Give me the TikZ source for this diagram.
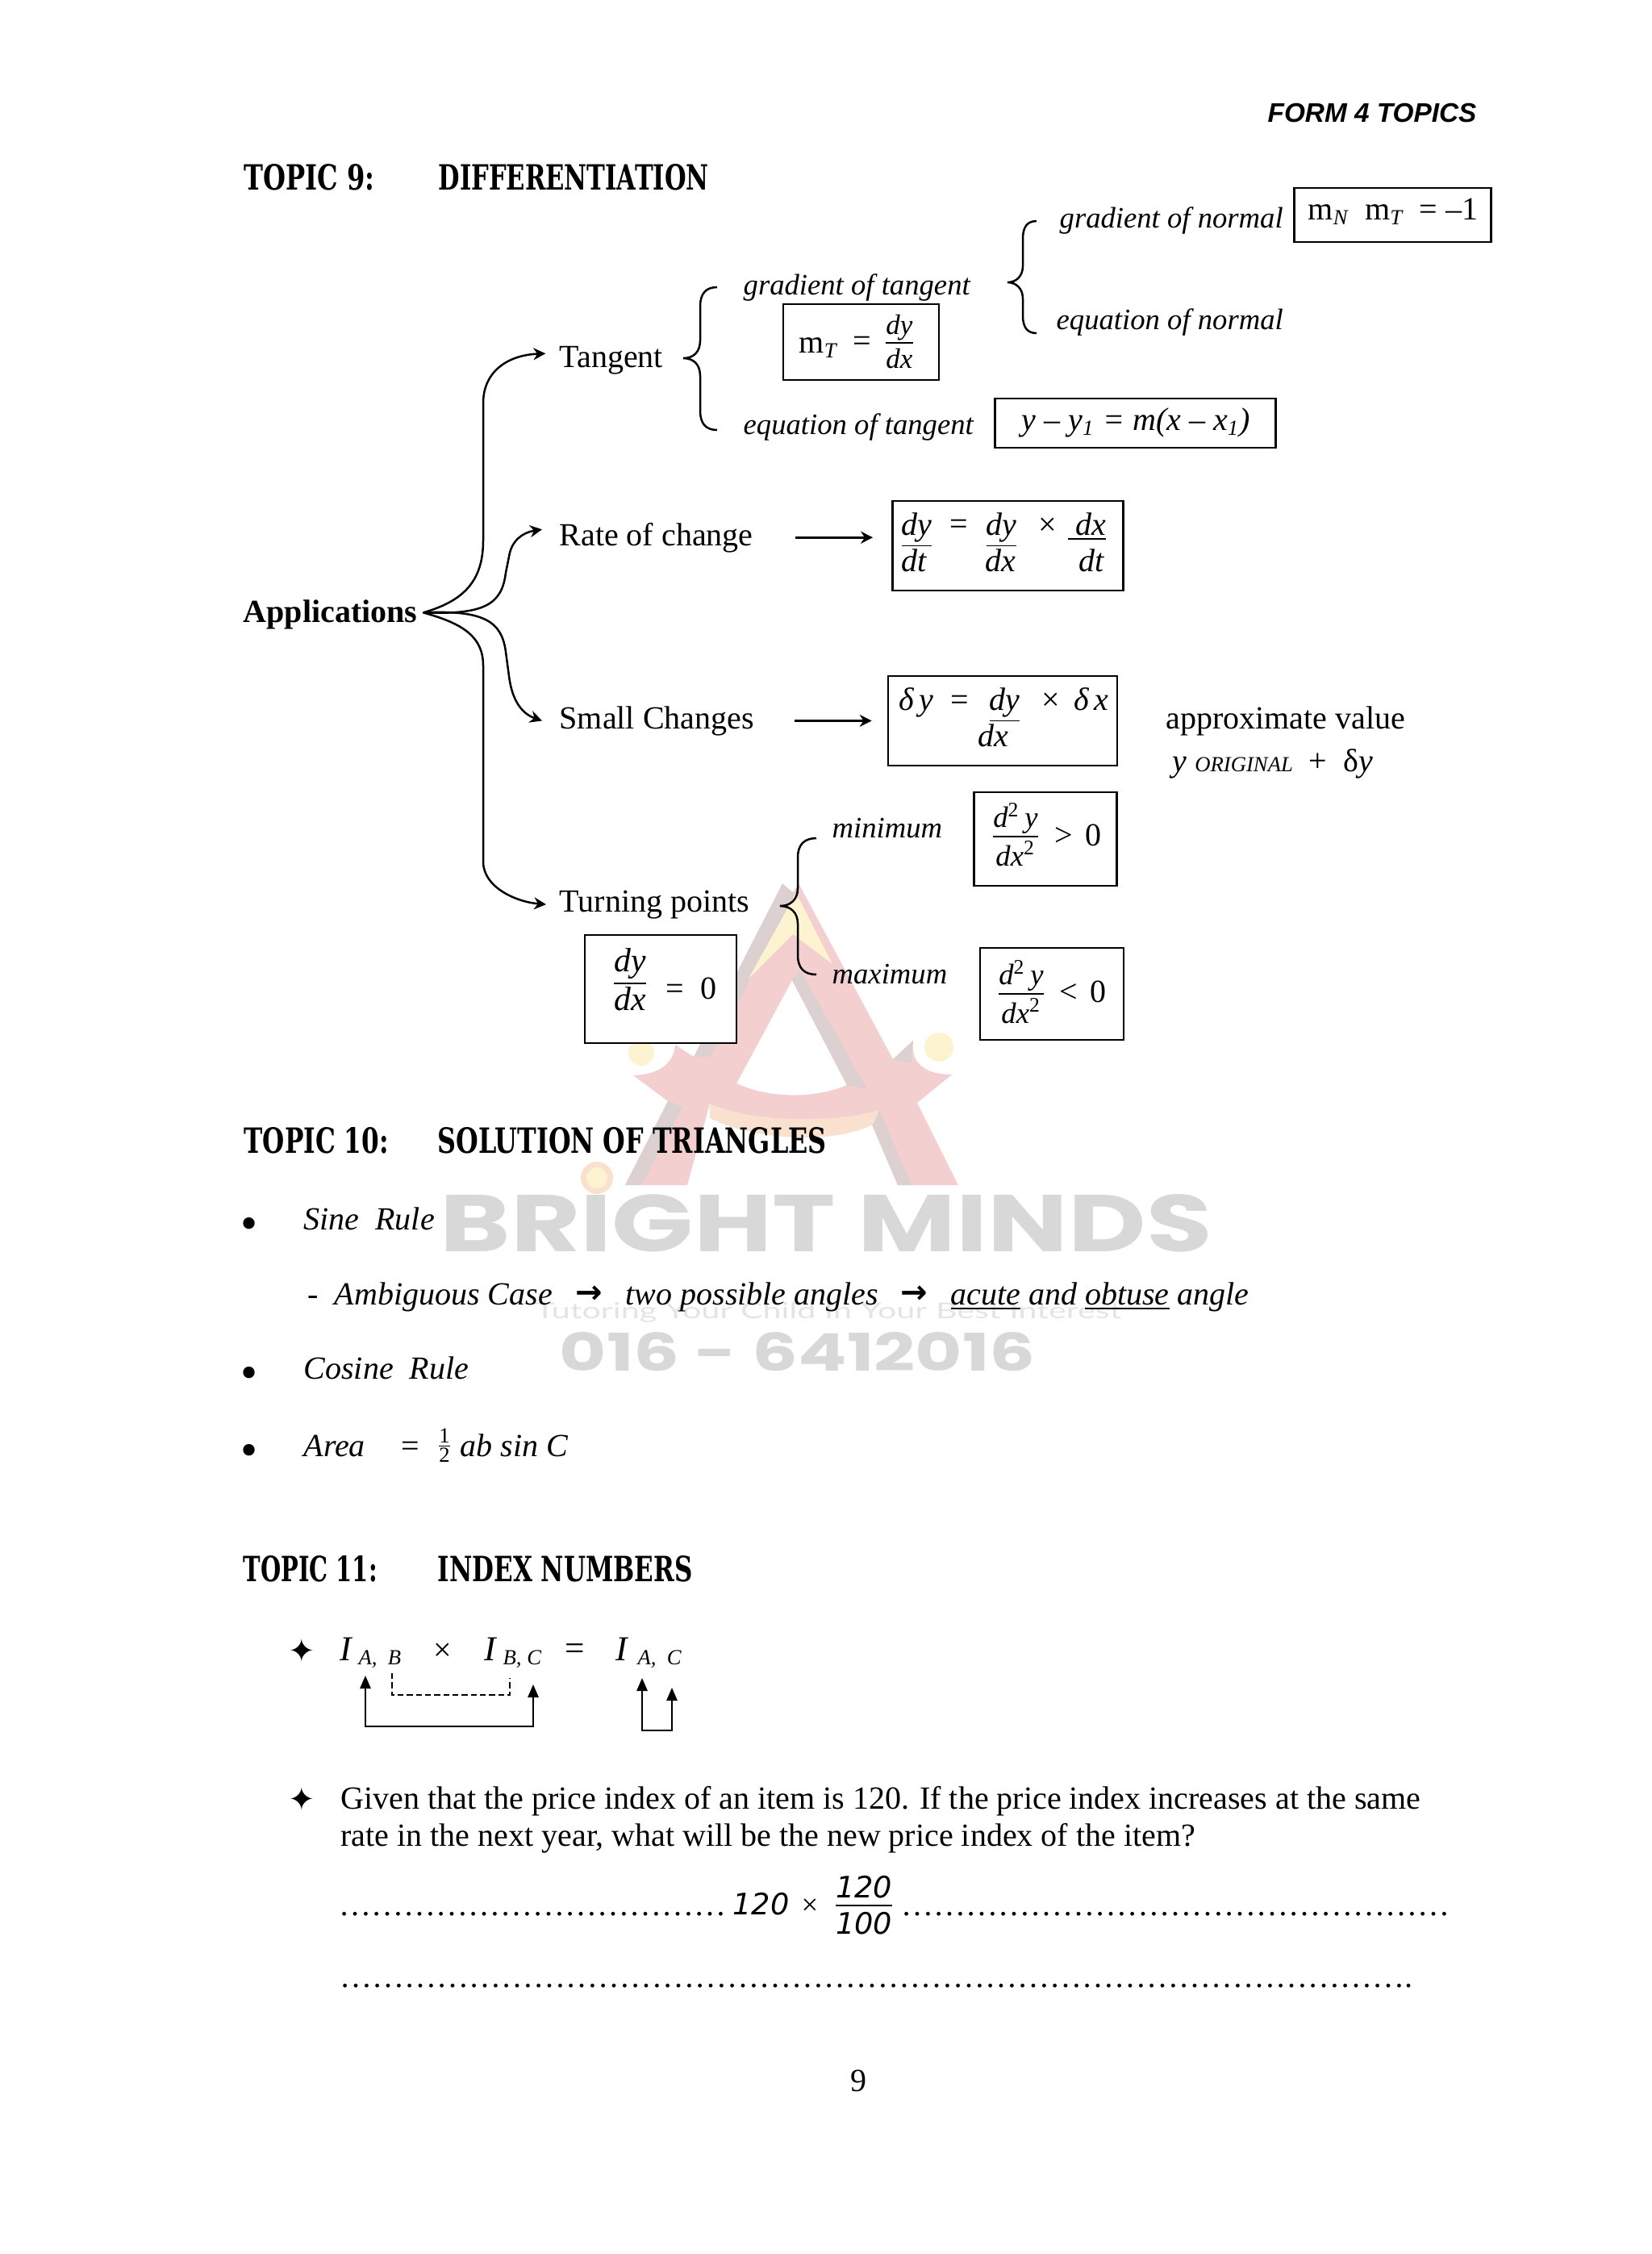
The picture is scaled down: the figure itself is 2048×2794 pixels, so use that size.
\documentclass[tikz,border=0pt]{standalone}
\usepackage{fontspec}
\usepackage{graphicx}
\setmainfont{Liberation Serif}
\newfontfamily\sansfont{Liberation Sans}
\newfontfamily\headfont{DejaVu Serif}
\newfontfamily\symfont{DejaVu Sans}
\newfontfamily\markfont{Poppins}
\newfontfamily\tagfont{Lato}
\usetikzlibrary{arrows.meta}
\definecolor{markred}{HTML}{F3CFCF}
\definecolor{markshade}{HTML}{DCD0D0}
\definecolor{markyellow}{HTML}{FEF3D0}
\definecolor{markpeach}{HTML}{F9E0CF}
\definecolor{markgray}{HTML}{D8D8D8}
\newcommand{\sz}[1]{\fontsize{#1}{#1}\selectfont}
\newcommand{\headline}[2]{\resizebox{#1}{9.6pt}{\headfont\bfseries #2}}
\newcommand{\fracgap}[4]{${\displaystyle\hbox{\rule[-#1]{0pt}{#1}#3}\above .6pt\hbox{\rule{0pt}{#2}#4}}$}
\newcommand{\fracsmall}[2]{${\textstyle\hbox{#1}\above .4pt\hbox{#2}}$}
\newcommand{\dotrow}[1]{\foreach \i in {1,...,#1}{…}}
\begin{document}
\begin{tikzpicture}[x=0.3pt, y=-0.3pt,
    body/.style = {anchor=base west, inner sep=0pt, font=\sz{12}},
    note/.style = {body, font=\sz{11}\itshape},
    slant/.style = {body, font=\sz{12}\itshape},
    sum/.style = {anchor=base, inner sep=0pt, font=\sz{12}},
    topic/.style = {anchor=base west, inner sep=0pt},
    eqbox/.style = {draw=black, fill=white, line width=0.8pt, inner sep=0pt},
    curly/.style = {line width=0.75pt},
    link/.style = {line width=0.75pt, -{Stealth[length=4.5pt, width=4.5pt]}},
    index/.style = {line width=0.55pt},
    indexarrow/.style = {index, {Triangle[length=4.8pt, width=4pt]}-{Triangle[length=4.8pt, width=4pt]}}]
    \useasboundingbox (0,0) rectangle (2048,2794);
    % watermark
    \fill[markred, even odd rule] (990,1095) -- (1107,1313) -- (1132,1290)
        .. controls (1128,1320) and (1150,1332) .. (1180,1332) -- (1137,1367) -- (1188,1469)
        -- (1113,1469) -- (1075,1380) .. controls (1030,1392) and (930,1392) .. (880,1368)
        -- (852,1469) -- (775,1469) -- (828,1365) -- (785,1333)
        .. controls (815,1332) and (835,1320) .. (837,1295) -- (860,1310) -- cycle
        (982,1215) -- (1050,1345) .. controls (1010,1362) and (955,1362) .. (913,1343) -- cycle;
    \fill[markshade] (970,1095) -- (985,1108) -- (880,1310) -- (860,1310) -- cycle;
    \fill[markshade] (982,1215) -- (992,1203) -- (1075,1350) -- (1050,1345) -- cycle;
    \fill[markshade] (775,1469) -- (828,1365) -- (846,1372) -- (795,1469) -- cycle;
    \fill[markshade] (1075,1380) -- (1090,1376) -- (1130,1469) -- (1113,1469) -- cycle;
    \fill[markshade] (1107,1313) -- (1132,1290) -- (1130,1318) -- cycle;
    \fill[markyellow] (987,1107) -- (1032,1195) -- (983,1158) -- (928,1213) -- cycle;
    \fill[markpeach] (880,1368) .. controls (930,1392) and (1040,1392) .. (1090,1376)
        -- (1082,1394) .. controls (1030,1420) and (930,1412) .. (880,1386) -- cycle;
    \fill[markyellow] (795,1305) circle (16);
    \fill[markyellow] (1164,1298) circle (18);
    \fill[markpeach] (740,1460) circle (20);
    \fill[markyellow] (740,1460) circle (13);
    \node[topic, text=markgray] (markname) at (545,1551) {\resizebox{287pt}{21.3pt}{\markfont\bfseries BRIGHT MINDS}};
    \node[topic, text=markgray!70] (marktag) at (663,1634) {\resizebox{218pt}{6pt}{\tagfont Tutoring Your Child In Your Best Interest}};
    \node[topic, text=markgray] (markphone) at (693,1699) {\resizebox{177pt}{14.4pt}{\markfont\bfseries 016 - 6412016}};
    % running head and section titles
    \node[body, font=\sz{10}\sansfont\bfseries\itshape] (formhead) at (1571,151) {FORM 4 TOPICS};
    \node[topic] (topicnine) at (302,235) {\headline{48.6pt}{TOPIC 9:}};
    \node[topic] (titlenine) at (543,235) {\headline{100.5pt}{DIFFERENTIATION}};
    \node[topic] (topicten) at (302,1429) {\headline{53.7pt}{TOPIC 10:}};
    \node[topic] (titleten) at (542,1429) {\headline{144.6pt}{SOLUTION OF TRIANGLES}};
    \node[topic] (topiceleven) at (301,1960) {\headline{49.8pt}{TOPIC 11:}};
    \node[topic] (titleeleven) at (542,1960) {\headline{94.8pt}{INDEX NUMBERS}};
    % tree of applications
    \node[body, font=\sz{12}\bfseries] (app) at (301,771) {Applications};
    \node[body] (tangent) at (693,455) {Tangent};
    \node[body] (rate) at (693,676) {Rate of change};
    \node[body] (small) at (693,903) {Small Changes};
    \node[body] (turning) at (693,1130) {Turning points};
    \draw[link] ([xshift=2pt,yshift=0.6pt]app.east) .. controls (575,745) and (599,720) .. (599,670) -- (599,500)
        .. controls (599,460) and (630,440) .. ([xshift=-5pt,yshift=2.4pt]tangent.west);
    \draw[link] ([xshift=2pt,yshift=0.6pt]app.east) .. controls (600,762) and (622,750) .. (627,710) -- (631,690)
        .. controls (634,670) and (648,660) .. ([xshift=-6.3pt,yshift=3pt]rate.west);
    \draw[link] ([xshift=2pt,yshift=0.6pt]app.east) .. controls (600,756) and (622,770) .. (627,808) -- (631,838)
        .. controls (635,870) and (648,885) .. ([xshift=-6.3pt]small.west);
    \draw[link] ([xshift=2pt,yshift=0.6pt]app.east) .. controls (575,773) and (599,790) .. (599,825) -- (599,1068)
        .. controls (599,1100) and (640,1118) .. ([xshift=-4.8pt]turning.west);
    % tangent branch
    \coordinate (tangentup) at (889,356);
    \coordinate (tangentmid) at (847,444);
    \coordinate (tangentdown) at (889,533);
    \draw[curly] (tangentup) .. controls (875,356) and (868,364) .. (868,380) -- (868,422)
        .. controls (868,436) and (860,444) .. (tangentmid) .. controls (860,444) and (868,452) .. (868,466)
        -- (868,509) .. controls (868,525) and (875,533) .. (tangentdown);
    \node[note] (gradtan) at (921,365) {gradient of tangent};
    \node[note] (eqtan) at (921,538) {equation of tangent};
    \node[eqbox, minimum width=193*0.3, minimum height=94*0.3] (mtbox) at (1067.5,424) {};
    \node[body] (mtleft) at (990,437) {m\textsubscript{\itshape T}};
    \node[sum] (mteq) at (1069,435) {=};
    \node[sum, font=\sz{10.5}\itshape] (mtfrac) at (1115,434) {\fracgap{0pt}{8.5pt}{dy}{dx}};
    \node[eqbox, minimum width=348*0.3, minimum height=61*0.3] (tanbox) at (1407.5,524.5) {};
    \node[slant] (tanform) at (1266,533) {y – y\textsubscript{1} = m(x – x\textsubscript{1})};
    % normal branch
    \coordinate (normalup) at (1285,274);
    \coordinate (normalmid) at (1249,350);
    \coordinate (normaldown) at (1285,413);
    \draw[curly] (normalup) .. controls (1273,274) and (1268,282) .. (1268,296) -- (1268,330)
        .. controls (1268,342) and (1260,350) .. (normalmid) .. controls (1260,350) and (1268,358) .. (1268,370)
        -- (1268,391) .. controls (1268,405) and (1273,413) .. (normaldown);
    \node[note] (gradnorm) at (1313,282) {gradient of normal};
    \node[note] (eqnorm) at (1309,408) {equation of normal};
    \node[eqbox, minimum width=244*0.3, minimum height=67*0.3] (mnbox) at (1726.5,266.5) {};
    \node[body] (mnform) at (1621,272) {m\textsubscript{\itshape N}\ \ m\textsubscript{\itshape T}\ \ = –1};
    % rate of change
    \node[eqbox, minimum width=286*0.3, minimum height=111*0.3] (ratebox) at (1249.5,676.5) {};
    \draw[link] ([xshift=15.6pt]rate.east) -- ([xshift=-6.9pt]ratebox.west |- rate.east);
    \node[slant] (rateone) at (1117,663) {\underline{dy}};
    \node[sum] (rateeq) at (1189,662) {=};
    \node[slant] (ratetwo) at (1222,663) {\underline{dy}};
    \node[sum] (ratex) at (1299,663) {×};
    \node[slant] (ratethree) at (1323,663) {\underline{\ dx}};
    \node[slant] (ratefour) at (1117,708) {dt};
    \node[slant] (ratefive) at (1221,708) {dx};
    \node[slant] (ratesix) at (1337,708) {dt};
    % small changes
    \node[eqbox, minimum width=284*0.3, minimum height=111*0.3] (smallbox) at (1243,893.5) {};
    \draw[link] ([xshift=15pt]small.east) -- ([xshift=-5.7pt]smallbox.west |- small.east);
    \node[slant] (smallone) at (1114,880) {δ\,y};
    \node[sum] (smalleq) at (1190,880) {=};
    \node[slant] (smalltwo) at (1226,880) {\underline{dy}};
    \node[sum] (smallx) at (1303,880) {×};
    \node[slant] (smallthree) at (1331,880) {δ\,x};
    \node[slant] (smallfour) at (1212,925) {dx};
    \node[body] (approx) at (1445,903) {approximate value};
    \node[slant] (yorig) at (1453,956) {y\ {\sz{8}ORIGINAL}\ \ {\upshape +}\ \ {\upshape δ}y};
    % turning points
    \coordinate (turnup) at (1012,1039);
    \coordinate (turnmid) at (967,1123);
    \coordinate (turndown) at (1012,1208);
    \draw[curly] (turnup) .. controls (997,1039) and (989,1047) .. (989,1063) -- (989,1101)
        .. controls (989,1115) and (980,1123) .. (turnmid) .. controls (980,1123) and (989,1131) .. (989,1145)
        -- (989,1184) .. controls (989,1200) and (997,1208) .. (turndown);
    \node[note] (minlabel) at (1031,1038) {minimum};
    \node[note] (maxlabel) at (1031,1219) {maximum};
    \node[eqbox, minimum width=188*0.3, minimum height=134*0.3] (zerobox) at (819,1226) {};
    \node[sum, font=\sz{12.5}\itshape] (zerofrac) at (781,1229) {\fracgap{3.4pt}{9pt}{dy}{dx}};
    \node[body] (zeroval) at (825,1238) {=\ \ 0};
    \node[eqbox, minimum width=177*0.3, minimum height=116*0.3] (minbox) at (1296,1040) {};
    \node[sum, font=\sz{11}\itshape] (minfrac) at (1259,1046) {\fracgap{0pt}{10pt}{d\textsuperscript{\upshape 2}\,y}{dx\textsuperscript{\upshape 2}}};
    \node[body] (minval) at (1307,1048) {>\hspace{4.5pt}0};
    \node[eqbox, minimum width=178*0.3, minimum height=114*0.3] (maxbox) at (1304,1232) {};
    \node[sum, font=\sz{11}\itshape] (maxfrac) at (1266,1241) {\fracgap{0pt}{10pt}{d\textsuperscript{\upshape 2}\,y}{dx\textsuperscript{\upshape 2}}};
    \node[body] (maxval) at (1313,1242) {<\hspace{4.5pt}0};
    % solution of triangles
    \node[body, font=\sz{18}] (bulletone) at (298,1536) {•};
    \node[slant] (sine) at (376,1524) {Sine\ \ Rule};
    \node[slant] (ambig) at (381,1617) {{\upshape -}\ \ Ambiguous Case};
    \node[inner sep=0pt, font=\sz{12}\symfont\bfseries] (arrowone) at (730,1605) {→};
    \node[slant] (twoangles) at (775,1617) {two possible angles};
    \node[inner sep=0pt, font=\sz{12}\symfont\bfseries] (arrowtwo) at (1133,1605) {→};
    \node[slant] (acute) at (1178,1617) {\underline{acute} and \underline{obtuse} angle};
    \node[body, font=\sz{18}] (bullettwo) at (298,1721) {•};
    \node[slant] (cosine) at (376,1709) {Cosine\ \ Rule};
    \node[body, font=\sz{18}] (bulletthree) at (298,1817) {•};
    \node[slant] (area) at (376,1805) {Area};
    \node[sum] (areaeq) at (509,1805) {=};
    \node[sum, font=\sz{8}] (half) at (551,1799) {\fracsmall{1}{2}};
    \node[slant] (areaform) at (570,1805) {ab sin C};
    % index numbers
    \node[inner sep=0pt, font=\sz{12}\symfont] (starone) at (374,2046) {✦};
    \node[slant, font=\sz{13}\itshape] (iab) at (421,2058) {I};
    \node[note, font=\sz{8}\itshape] (subab) at (444,2063) {A,\ \ B};
    \node[sum] (indextimes) at (549,2058) {×};
    \node[slant, font=\sz{13}\itshape] (ibc) at (600,2058) {I};
    \node[note, font=\sz{8}\itshape] (subbc) at (623,2063) {B,\ C};
    \node[sum, font=\sz{13}] (indexeq) at (713,2057) {=};
    \node[slant, font=\sz{13}\itshape] (iac) at (763,2058) {I};
    \node[note, font=\sz{8}\itshape] (subac) at (790,2063) {A,\ \ C};
    \coordinate (arrowa) at (453,2077);
    \coordinate (arrowc) at (661,2088);
    \coordinate (dasha) at (486,2074);
    \coordinate (dashb) at (632,2080);
    \coordinate (arrowd) at (796,2080);
    \coordinate (arrowe) at (833,2092);
    \draw[indexarrow] (arrowa) -- ++(0,63) -| (arrowc);
    \draw[index, dashed, dash pattern=on 2.2pt off 1.2pt] (dasha) -- ++(0,27) -| (dashb);
    \draw[indexarrow] (arrowd) -- ++(0,65) -| (arrowe);
    \node[inner sep=0pt, font=\sz{12}\symfont] (startwo) at (374,2230) {✦};
    \node[body] (question) at (422,2242) {Given that the price index of an item is 120. If the price index increases at the same};
    \node[body] (questiontwo) at (422,2288) {rate in the next year, what will be the new price index of the item?};
    \node[body] (dotsone) at (420,2374) {\dotrow{12}};
    \node[body, font=\sz{11}\symfont\itshape] (workone) at (908,2373) {120};
    \node[sum, font=\sz{11}] (worktimes) at (1004,2373) {×};
    \node[sum, font=\sz{11}\symfont\itshape] (workfrac) at (1071,2371) {\fracgap{1.8pt}{9.9pt}{120}{100}};
    \node[body] (dotstwo) at (1117,2374) {\dotrow{17}};
    \node[body] (dotsthree) at (421,2463) {\dotrow{33}.};
    \node[body] (pagenum) at (1054,2592) {9};
\end{tikzpicture}
\end{document}
